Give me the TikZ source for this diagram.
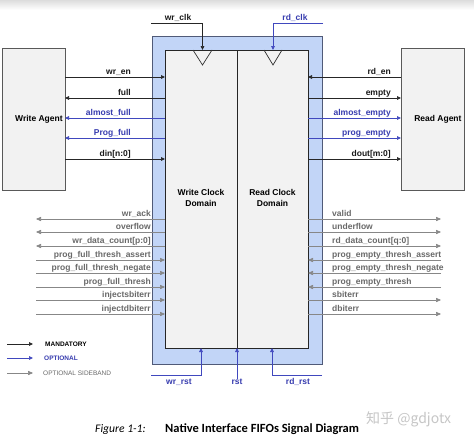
\documentclass[tikz,border=0pt]{standalone}
\usepackage{fontspec}
\setmainfont{Liberation Sans}
\newfontfamily\capfont{Carlito}
\newfontfamily\cjkfont{Noto Sans CJK SC}
\usetikzlibrary{arrows.meta}
\definecolor{bandblue}{RGB}{194,213,247}
\definecolor{bandedge}{RGB}{80,90,120}
\definecolor{boxfill}{RGB}{242,242,242}
\definecolor{optblue}{RGB}{64,72,190}
\definecolor{optblutext}{RGB}{55,60,175}
\definecolor{sidegray}{RGB}{135,135,135}
\definecolor{sidetext}{RGB}{105,105,105}
\begin{document}
\begin{tikzpicture}[x=1pt,y=-1pt,
  sig/.style={line width=0.65pt},
  mand/.style={sig,draw=black!85,-{Triangle[length=4pt,width=3.6pt]}},
  opt/.style={sig,draw=optblue,-{Triangle[length=4pt,width=3.6pt]}},
  side/.style={sig,draw=sidegray,-{Triangle[length=5pt,width=4.2pt]}},
  lab/.style={inner sep=0pt,font=\bfseries\fontsize{8.5}{10}\selectfont},
  mandlab/.style={lab,text=black!90},
  optlab/.style={lab,text=optblutext},
  sidelab/.style={lab,text=sidetext},
  legl/.style={inner sep=0pt,anchor=base west,font=\bfseries\fontsize{6.5}{7}\selectfont},
  agent/.style={draw=black!65,fill=boxfill,line width=0.8pt,minimum width=63pt,minimum height=142pt,anchor=north west,inner sep=0pt},
  dom/.style={draw=black!85,fill=boxfill,line width=0.8pt,minimum height=298pt,anchor=north west,inner sep=0pt},
  clk/.style={draw=black!80,line width=0.7pt}
]
\useasboundingbox (0,0) rectangle (474,439);
\fill[white] (0,0) rectangle (474,439);
\shade[top color=gray!30,bottom color=white] (0,-1) rectangle (474,10);

% boxes
\node[draw=bandedge,fill=bandblue,line width=0.8pt,minimum width=170pt,minimum height=328pt,anchor=north west,inner sep=0pt] (outer) at (152,36) {};
\node[dom,minimum width=72pt] (wcd) at (165,50) {};
\node[dom,minimum width=71pt] (rcd) at (237,50) {};
\node[agent] (wa) at (2,48) {};
\node[agent] (ra) at (401,48) {};
\node[lab] (wat) at ([xshift=5pt]wa.center) {Write Agent};
\node[lab] (rat) at ([xshift=5pt]ra.center) {Read Agent};
\node[lab,align=center] (wct) at (201,198) {Write Clock\\[1pt]Domain};
\node[lab,align=center] (rct) at (272.5,198) {Read Clock\\[1pt]Domain};

% clock triangles
\draw[clk] (193,50) -- (202.5,65) -- (212,50);
\draw[clk] (264,50) -- (273,65) -- (282,50);

% clocks
\coordinate (wclk) at (151,23);
\coordinate (rclk) at (323,23);
\draw[mand] (wclk) -| (202.5,50);
\draw[opt] (rclk) -| (273,50);
\node[mandlab,anchor=base] (wclkl) at (178,20) {wr\_clk};
\node[optlab,anchor=base] (rclkl) at (295,20) {rd\_clk};

% resets
\coordinate (wrst) at (151,375);
\coordinate (grst) at (237,379);
\coordinate (rrst) at (322,375);
\draw[opt] (wrst) -| (201,348);
\draw[opt] (grst) -- (237,348);
\draw[opt] (rrst) -| (272,348);
\node[optlab,anchor=base] (wrstl) at (179,384) {wr\_rst};
\node[optlab,anchor=base] (grstl) at (237,384) {rst};
\node[optlab,anchor=base] (rrstl) at (298,384) {rd\_rst};

% write side main signals
\foreach \y/\n/\t/\s/\d in {77/a/wr\_en/mand/i, 98/b/full/mand/o, 118/c/almost\_full/opt/o, 138/d/Prog\_full/opt/o, 159/e/din[n:0]/mand/i}{
  \coordinate (wl\n) at (65,\y);
  \coordinate (wr\n) at (165,\y);
  \if\d i \draw[\s] (wl\n) -- (wr\n); \else \draw[\s] (wr\n) -- (wl\n); \fi
  \node[\s lab,anchor=base east] at (131,\y-3) {\t};
}
% read side main signals
\foreach \y/\n/\t/\s/\d in {77/a/rd\_en/mand/i, 98/b/empty/mand/o, 118/c/almost\_empty/opt/o, 138/d/prog\_empty/opt/o, 159/e/dout[m:0]/mand/o}{
  \coordinate (rl\n) at (308,\y);
  \coordinate (rr\n) at (401,\y);
  \if\d i \draw[\s] (rr\n) -- (rl\n); \else \draw[\s] (rl\n) -- (rr\n); \fi
  \node[\s lab,anchor=base east] at (391,\y-3) {\t};
}
% write sideband
\foreach \y/\n/\t/\d in {219/a/wr\_ack/o, 232/b/overflow/o, 246/c/wr\_data\_count[p:0]/o, 260/d/prog\_full\_thresh\_assert/i, 273/e/prog\_full\_thresh\_negate/i, 287/f/prog\_full\_thresh/i, 300/g/injectsbiterr/i, 314/h/injectdbiterr/i}{
  \coordinate (sl\n) at (36,\y);
  \coordinate (sr\n) at (165,\y);
  \if\d i \draw[side] (sl\n) -- (sr\n); \else \draw[side] (sr\n) -- (sl\n); \fi
  \node[sidelab,anchor=base east] at (151,\y-3) {\t};
}
% read sideband
\foreach \y/\n/\t/\d in {219/a/valid/o, 232/b/underflow/o, 246/c/rd\_data\_count[q:0]/o, 260/d/prog\_empty\_thresh\_assert/i, 273/e/prog\_empty\_thresh\_negate/i, 287/f/prog\_empty\_thresh/i, 300/g/sbiterr/o, 314/h/dbiterr/o}{
  \coordinate (tl\n) at (308,\y);
  \coordinate (tr\n) at (441,\y);
  \if\d i \draw[side] (tr\n) -- (tl\n); \else \draw[side] (tl\n) -- (tr\n); \fi
  \node[sidelab,anchor=base west] at (332,\y-3) {\t};
}

% legend
\coordinate (lm0) at (7,344); \coordinate (lm1) at (33,344);
\coordinate (lo0) at (7,358); \coordinate (lo1) at (33,358);
\coordinate (ls0) at (7,373); \coordinate (ls1) at (33,373);
\draw[mand] (lm0) -- (lm1);
\draw[opt] (lo0) -- (lo1);
\draw[side] (ls0) -- (ls1);
\node[legl,text=black] (lml) at (45,346.5) {MANDATORY};
\node[legl,text=optblutext] (lol) at (44,360.5) {OPTIONAL};
\node[legl,text=sidetext,font=\fontsize{6.5}{7}\selectfont] (lsl) at (43,375.5) {OPTIONAL SIDEBAND};

% caption
\node[inner sep=0pt,anchor=base west,font=\capfont\itshape\fontsize{11.6}{13}\selectfont] (cap1) at (95,432) {Figure 1-1:};
\node[inner sep=0pt,anchor=base west,font=\capfont\bfseries\fontsize{12.5}{14}\selectfont] (cap2) at (165,432) {Native Interface FIFOs Signal Diagram};
\node[inner sep=0pt,anchor=base west,text=gray!45,font=\cjkfont\fontsize{14}{16}\selectfont] (wm) at (366,423) {知乎 @gdjotx};
\end{tikzpicture}
\end{document}
